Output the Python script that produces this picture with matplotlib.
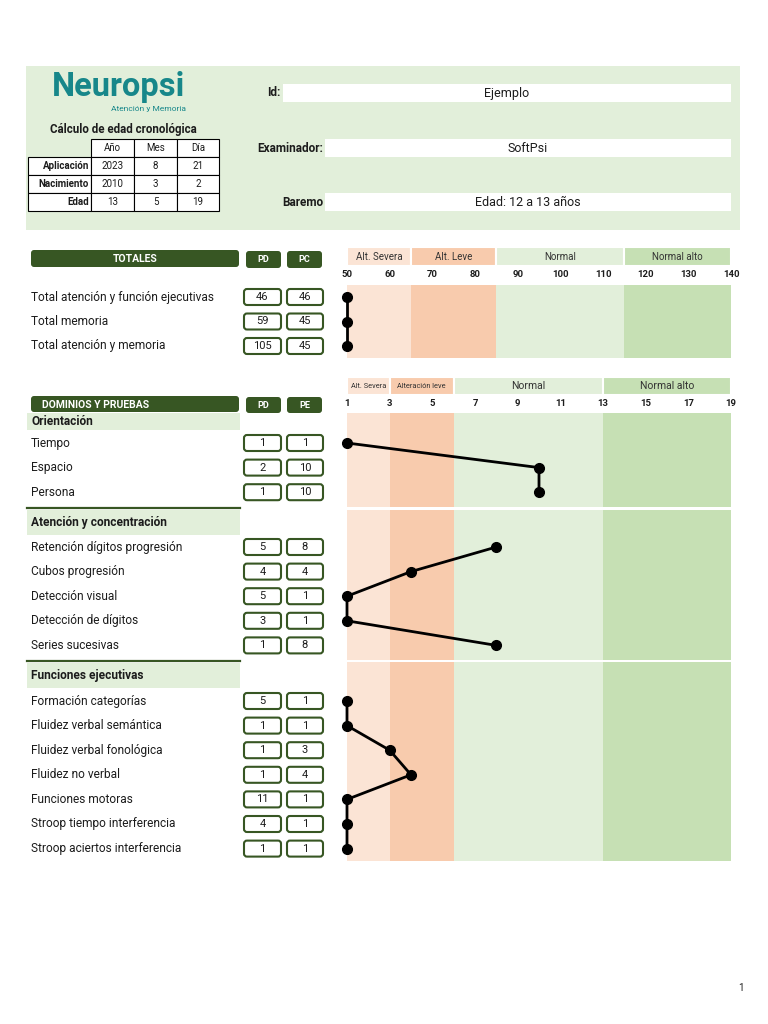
import numpy as np
import matplotlib
matplotlib.use("Agg")
import matplotlib.pyplot as plt
import matplotlib.transforms as mtransforms
from matplotlib.patches import Rectangle, FancyBboxPatch

plt.rcParams['font.family'] = ['Roboto', 'DejaVu Sans']

# Ficha de identificación
id_labels = ["Id:", "Examinador:", "Baremo"]
id_values = ["Ejemplo", "SoftPsi", "Edad: 12 a 13 años"]

# Cálculo de edad cronológica
edad_cols = ["Año", "Mes", "Día"]
edad_rows = ["Aplicación", "Nacimiento", "Edad"]
edad_vals = [[2023, 8, 21], [2010, 3, 2], [13, 5, 19]]

# Totales
tot_names = ["Total atención y función ejecutivas", "Total memoria", "Total atención y memoria"]
tot_pd = [46, 59, 105]
tot_pc = [46, 45, 45]
tot_edges = [50, 65, 85, 115, 140]
tot_band_names = ["Alt. Severa", "Alt. Leve", "Normal", "Normal alto"]
tot_ticks = list(range(50, 141, 10))

# Dominios y pruebas
dom_groups = ["Orientación", "Atención y concentración", "Funciones ejecutivas"]
dom_tests = [
    ["Tiempo", "Espacio", "Persona"],
    ["Retención dígitos progresión", "Cubos progresión", "Detección visual",
     "Detección de dígitos", "Series sucesivas"],
    ["Formación categorías", "Fluidez verbal semántica", "Fluidez verbal fonológica",
     "Fluidez no verbal", "Funciones motoras", "Stroop tiempo interferencia",
     "Stroop aciertos interferencia"],
]
dom_pd = [[1, 2, 1], [5, 4, 5, 3, 1], [5, 1, 1, 1, 11, 4, 1]]
dom_pe = [[1, 10, 10], [8, 4, 1, 1, 8], [1, 1, 3, 4, 1, 1, 1]]
dom_edges = [1, 3, 6, 13, 19]
dom_band_names = ["Alt. Severa", "Alteración leve", "Normal", "Normal alto"]
dom_ticks = list(range(1, 20, 2))

band_colors = ["#fbe4d5", "#f8cbad", "#e2efda", "#c6e0b4"]
dark_green = "#375623"
light_green = "#e2efda"
teal = "#17878a"
ink = "#1c1c1c"

W, H = 768, 1024
fig = plt.figure(figsize=(7.68, 10.24), dpi=100)
pg = fig.add_axes([0, 0, 1, 1])
pg.set_xlim(0, W)
pg.set_ylim(H, 0)
pg.axis('off')


def px_axes(x0, y0, x1, y1):
    return fig.add_axes([x0 / W, 1 - y1 / H, (x1 - x0) / W, (y1 - y0) / H])


def box(x0, y0, x1, y1, fc, ec='none', lw=0, r=0, z=1):
    if r:
        p = FancyBboxPatch((x0, y0), x1 - x0, y1 - y0, boxstyle=f"round,pad=0,rounding_size={r}",
                           fc=fc, ec=ec, lw=lw, zorder=z)
    else:
        p = Rectangle((x0, y0), x1 - x0, y1 - y0, fc=fc, ec=ec, lw=lw, zorder=z)
    pg.add_patch(p)


def txt(x, y, s, size=8, ha='left', weight='normal', color=ink):
    pg.text(x, y, s, fontsize=size, ha=ha, va='center', fontweight=weight, color=color, zorder=5)


def value_box(x0, x1, y, v):
    box(x0, y - 8, x1, y + 8, 'white', dark_green, 1.5, r=3)
    txt((x0 + x1) / 2, y, str(v), size=8, ha='center')


def style_chart(ax, ticks, pad):
    ax.set_facecolor('none')
    for s in ax.spines.values():
        s.set_visible(False)
    ax.set_yticks([])
    ax.set_xticks(ticks)
    ax.xaxis.tick_top()
    ax.tick_params(axis='x', length=0, pad=pad, labelsize=6.8, labelcolor=ink)
    for lab in ax.get_xticklabels():
        lab.set_fontweight('bold')


# ---- encabezado ----
box(26, 66, 740, 230, light_green)
txt(52, 87, "Neuropsi", size=23.5, weight='bold', color=teal)
txt(186, 109, "Atención y Memoria", size=6, ha='right', color=teal)
txt(123, 129, "Cálculo de edad cronológica", size=8.3, ha='center', weight='bold')

col_x = [91, 134, 177, 219]
row_y = [139, 157, 175, 193, 211]
for j, c in enumerate(edad_cols):
    box(col_x[j], row_y[0], col_x[j + 1], row_y[1], 'white', 'black', 0.8)
    txt((col_x[j] + col_x[j + 1]) / 2, (row_y[0] + row_y[1]) / 2, c, size=7, ha='center')
for i, r in enumerate(edad_rows):
    y0, y1 = row_y[i + 1], row_y[i + 2]
    box(28, y0, col_x[0], y1, 'white', 'black', 0.8)
    txt(col_x[0] - 2, (y0 + y1) / 2, r, size=7, ha='right', weight='bold')
    for j in range(3):
        box(col_x[j], y0, col_x[j + 1], y1, 'white', 'black', 0.8)
        txt((col_x[j] + col_x[j + 1]) / 2, (y0 + y1) / 2, str(edad_vals[i][j]), size=7, ha='center')

field_y = [93, 148, 202]
field_x0 = [283, 325, 325]
for k in range(3):
    y = field_y[k]
    box(field_x0[k], y - 9, 731, y + 9, 'white')
    txt(field_x0[k] - 2, y, id_labels[k], size=8.5, ha='right', weight='bold')
    txt((field_x0[k] + 731) / 2, y, id_values[k], size=9, ha='center')

# ---- totales ----
box(31, 250, 239, 267, dark_green, r=3)
txt(135, 258.5, "TOTALES", size=7.5, ha='center', weight='bold', color='white')
for x0, lab in [(246, "PD"), (287, "PC")]:
    box(x0, 251, x0 + 35, 268, dark_green, r=3)
    txt(x0 + 17.5, 259.5, lab, size=6.5, ha='center', weight='bold', color='white')

tot_y = [297, 321.5, 346]
for k, name in enumerate(tot_names):
    txt(31, tot_y[k], name, size=8.6)
    value_box(244, 281, tot_y[k], tot_pd[k])
    value_box(287, 323, tot_y[k], tot_pc[k])

ax1 = px_axes(347, 285, 731, 358)
ax1.set_xlim(tot_edges[0], tot_edges[-1])
ax1.set_ylim(358, 285)
style_chart(ax1, tot_ticks, 4)
blend1 = mtransforms.blended_transform_factory(ax1.transData, pg.transData)
for k in range(4):
    ax1.axvspan(tot_edges[k], tot_edges[k + 1], color=band_colors[k], lw=0, zorder=0)
    ax1.add_patch(Rectangle((tot_edges[k], 247), tot_edges[k + 1] - tot_edges[k], 19, transform=blend1,
                            fc=band_colors[k], ec='white', lw=1.5, clip_on=False))
    ax1.text((tot_edges[k] + tot_edges[k + 1]) / 2, 256.5, tot_band_names[k], transform=blend1,
             ha='center', va='center', fontsize=7, color='#333333')
ax1.plot(np.clip(tot_pc, tot_edges[0], tot_edges[-1]), tot_y, color='black', lw=2,
         marker='o', ms=7, clip_on=False, zorder=3)

# ---- dominios y pruebas ----
box(31, 396, 239, 412, dark_green, r=3)
txt(42, 404.5, "DOMINIOS Y PRUEBAS", size=7.5, weight='bold', color='white')
for x0, lab in [(246, "PD"), (287, "PE")]:
    box(x0, 397, x0 + 35, 413, dark_green, r=3)
    txt(x0 + 17.5, 405.5, lab, size=6.5, ha='center', weight='bold', color='white')

group_spans = [(413, 430), (510, 535), (663, 688)]
first_row = [443, 547, 701]
step = 24.6
separators = [508, 661]
plot_spans = [(413, 506.5), (509.5, 659.5), (662, 861)]

ax2 = px_axes(347, 413, 731, 861)
ax2.set_xlim(dom_edges[0], dom_edges[-1])
ax2.set_ylim(861, 413)
style_chart(ax2, dom_ticks, 3.5)
blend2 = mtransforms.blended_transform_factory(ax2.transData, pg.transData)
hdr_sizes = [5.3, 5.3, 7.5, 7.5]
for k in range(4):
    ax2.add_patch(Rectangle((dom_edges[k], 377), dom_edges[k + 1] - dom_edges[k], 18, transform=blend2,
                            fc=band_colors[k], ec='white', lw=1.5, clip_on=False))
    ax2.text((dom_edges[k] + dom_edges[k + 1]) / 2, 386, dom_band_names[k], transform=blend2,
             ha='center', va='center', fontsize=hdr_sizes[k], color='#333333')

for g, grp in enumerate(dom_groups):
    h0, h1 = group_spans[g]
    box(27, h0, 240, h1, light_green)
    txt(31, (h0 + h1) / 2, grp, size=8.6, weight='bold')
    ys = [first_row[g] + i * step for i in range(len(dom_tests[g]))]
    for i, name in enumerate(dom_tests[g]):
        txt(31, ys[i], name, size=8.6)
        value_box(244, 281, ys[i], dom_pd[g][i])
        value_box(287, 323, ys[i], dom_pe[g][i])
    p0, p1 = plot_spans[g]
    for k in range(4):
        ax2.add_patch(Rectangle((dom_edges[k], p0), dom_edges[k + 1] - dom_edges[k], p1 - p0,
                                fc=band_colors[k], lw=0, zorder=0))
    ax2.plot(dom_pe[g], ys, color='black', lw=2, marker='o', ms=7, clip_on=False, zorder=3)

for y in separators:
    pg.plot([27, 240], [y, y], color=dark_green, lw=1.6)

txt(741, 988, "1", size=7, ha='center')

fig.savefig("out.png", dpi=100)
